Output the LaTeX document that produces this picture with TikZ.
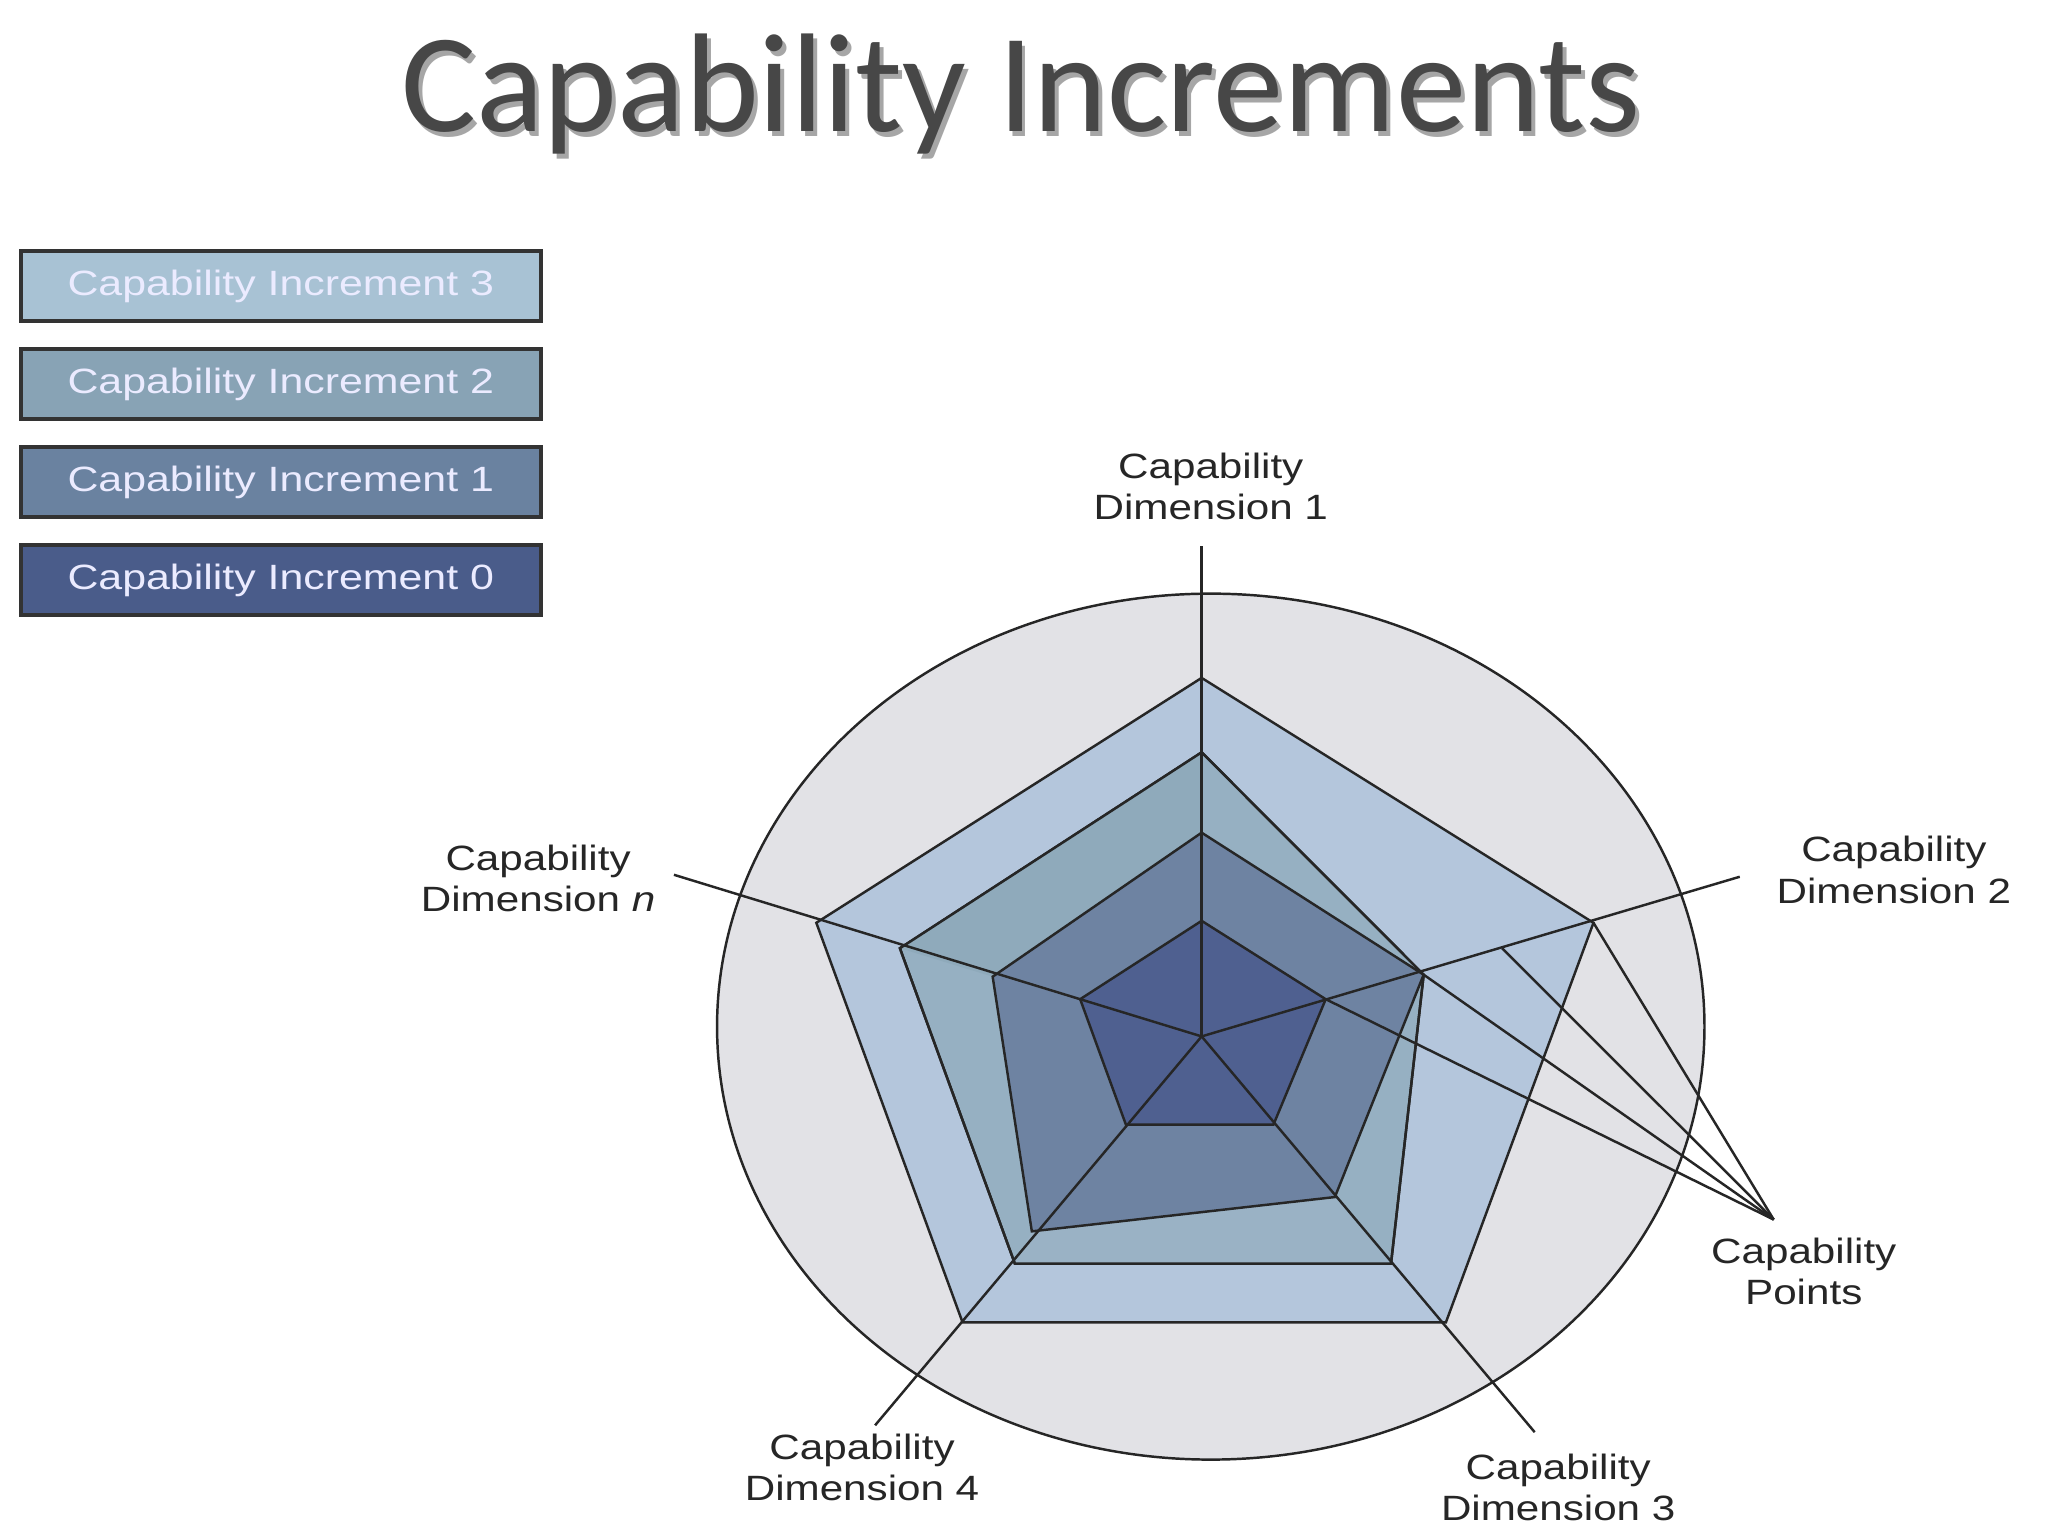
\documentclass[tikz,border=0pt]{standalone}
\usepackage{fontspec}
\setmainfont{Liberation Sans}
\newfontfamily\titlefont{Carlito}
\definecolor{circfill}{HTML}{E2E2E6}
\definecolor{incthree}{HTML}{B4C6DC}
\definecolor{inctwo}{HTML}{8FAABB}
\definecolor{incone}{HTML}{6E83A2}
\definecolor{inczero}{HTML}{4F6090}
\definecolor{boxthree}{HTML}{A8C2D4}
\definecolor{boxtwo}{HTML}{88A3B5}
\definecolor{boxone}{HTML}{6A82A0}
\definecolor{boxzero}{HTML}{4A5C8A}
\tikzset{
  ln/.style={draw=black!85, line width=0.7pt},
  lbl/.style={align=center, font=\fontsize{10}{11.7}\selectfont, transform shape, xscale=1.2, text=black!85},
  legbox/.style={draw=black!80, line width=1pt, minimum width=5.2cm, minimum height=0.70cm, inner sep=0pt},
  legtxt/.style={transform shape, xscale=1.22, text=white!92!blue, font=\fontsize{10}{12}\selectfont},
  ttl/.style={font=\titlefont\fontsize{40}{44}\selectfont}
}
\begin{document}
\begin{tikzpicture}[x={(0.013061cm,0cm)}, y={(0cm,-0.0098cm)}]
\useasboundingbox (0,0) rectangle (1568,1568);
\fill[white] (0,0) rectangle (1568,1568);
% title
\node[ttl, text=black!35] (titleshadow) at (785,101) {Capability Increments};
\node[ttl, text=black!72] (title) at (782,96) {Capability Increments};
% legend
\node[legbox, fill=boxthree] (b3) at (215,292) {};
\node[legtxt] (t3) at (b3) {Capability Increment 3};
\node[legbox, fill=boxtwo] (b2) at (215,392) {};
\node[legtxt] (t2) at (b2) {Capability Increment 2};
\node[legbox, fill=boxone] (b1) at (215,492) {};
\node[legtxt] (t1) at (b1) {Capability Increment 1};
\node[legbox, fill=boxzero] (b0) at (215,592) {};
\node[legtxt] (t0) at (b0) {Capability Increment 0};
% circle
\draw[ln, fill=circfill] (927,1048) ellipse [x radius=378, y radius=442];
% center and axes ends
\coordinate (c) at (920,1058);
\coordinate (a1) at (920,557);
\coordinate (a2) at (1332,895);
\coordinate (an) at (516,893);
\coordinate (a4) at (670,1455);
\coordinate (a3) at (1175,1462);
% increments
\coordinate (p31) at (920,692); \coordinate (p32) at (1220,942); \coordinate (p33) at (1107,1350);
\coordinate (p34) at (737,1350); \coordinate (p3n) at (625,942);
\coordinate (p21) at (920,768); \coordinate (p22) at (1090,995); \coordinate (p23) at (1065,1290);
\coordinate (p24) at (777,1290); \coordinate (p2n) at (689,968);
\coordinate (p11) at (920,850); \coordinate (p12) at (1090,995); \coordinate (p13) at (1022,1222);
\coordinate (p14) at (790,1257); \coordinate (p1n) at (760,997);
\coordinate (p01) at (920,940); \coordinate (p02) at (1015,1020); \coordinate (p03) at (975,1148);
\coordinate (p04) at (862,1148); \coordinate (p0n) at (827,1020);
\coordinate (pextra) at (1150,968);
\draw[ln, fill=incthree] (p31) -- (p32) -- (p33) -- (p34) -- (p3n) -- cycle;
\draw[ln, fill=inctwo!80!incthree] (p21) -- (p22) -- (p23) -- (p24) -- (p2n) -- cycle;
\fill[inctwo] (p2n) -- (p21) -- (p11) -- (p1n) -- cycle;
\fill[inctwo!70!incthree] (p24) -- (p23) -- (p13) -- (p14) -- cycle;
\draw[ln] (p21) -- (p22) -- (p23) -- (p24) -- (p2n) -- cycle;
\draw[ln, fill=incone] (p11) -- (p12) -- (p13) -- (p14) -- (p1n) -- cycle;
\draw[ln, fill=inczero] (p01) -- (p02) -- (p03) -- (p04) -- (p0n) -- cycle;
% axes
\draw[ln] (c) -- (a1);
\draw[ln] (c) -- (a2);
\draw[ln] (c) -- (an);
\draw[ln] (c) -- (a4);
\draw[ln] (c) -- (a3);
% labels
\node[lbl] (l1) at (927,497) {Capability\\Dimension 1};
\node[lbl] (l2) at (1450,888) {Capability\\Dimension 2};
\node[lbl] (ln) at (412,897) {Capability\\Dimension \textit{n}};
\node[lbl] (l4) at (660,1498) {Capability\\Dimension 4};
\node[lbl] (l3) at (1193,1518) {Capability\\Dimension 3};
\node[lbl] (lp) at (1381,1298) {Capability\\Points};
% capability point connectors
\coordinate (cp) at (1358,1245);
\draw[ln] (p32) -- (cp);
\draw[ln] (pextra) -- (cp);
\draw[ln] (p22) -- (cp);
\draw[ln] (p02) -- (cp);
\end{tikzpicture}
\end{document}
